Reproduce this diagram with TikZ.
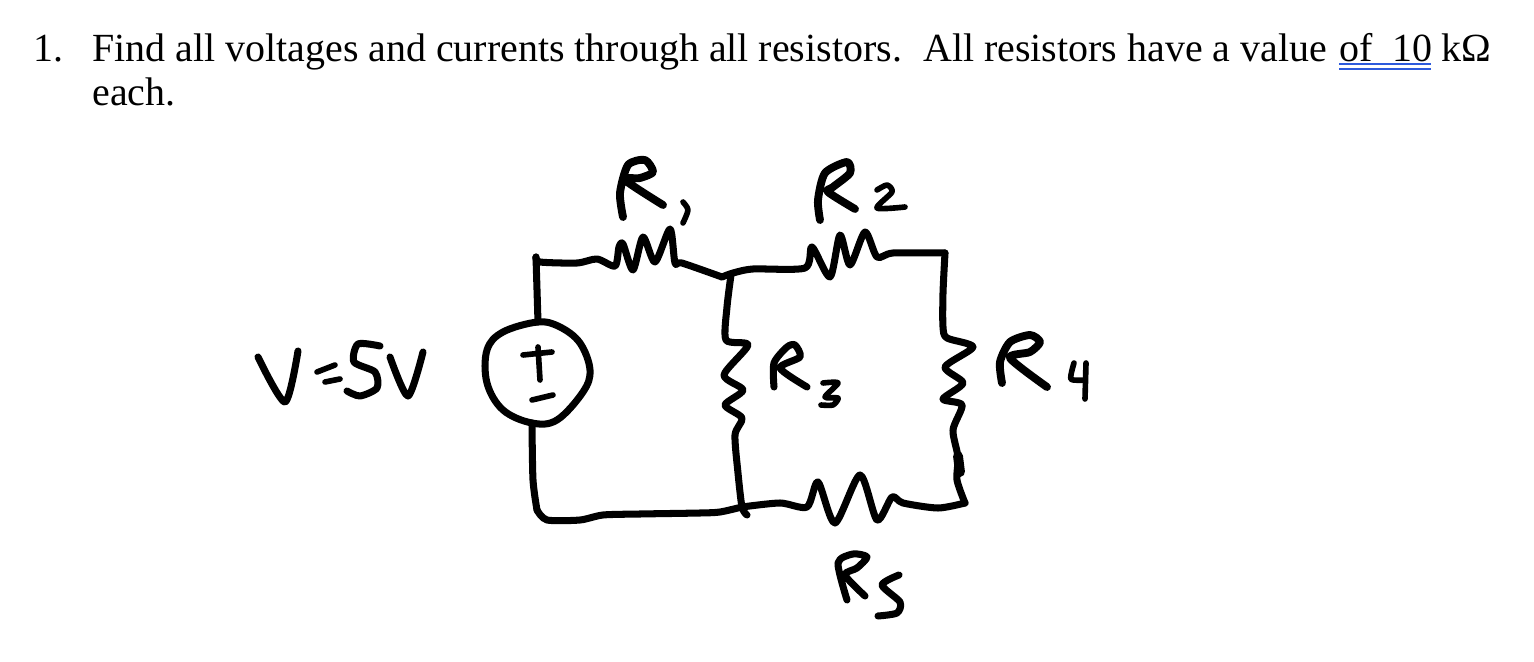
\documentclass[tikz,border=0pt]{standalone}
\usepackage{fontspec}
\setmainfont{Liberation Serif}
\usetikzlibrary{positioning}
\definecolor{wordblue}{RGB}{45,90,220}

\begin{document}
\begin{tikzpicture}[
    x=0.025cm, y=-0.025cm,
    txt/.style={anchor=base west, inner sep=0pt, font=\fontsize{28.4}{32}\selectfont},
    ink/.style={line width=5pt, line cap=round, line join=round},
    bigink/.style={line width=5.6pt, line cap=round, line join=round},
    thinink/.style={line width=4pt, line cap=round, line join=round},
    hand/.style={smooth, tension=0.45},
    squiggle/.style={line width=1.6pt, wordblue}
]
\useasboundingbox (0,0) rectangle (1534,662);

% question text
\node[txt] (num) at (33,62) {1.};
\node[txt] (lineA) at (92,62) {Find all voltages and currents through all resistors.};
\node[txt] (lineB) at (923,62) {All resistors have a value};
\node[txt] (valof) at (1339,62) {of};
\node[txt] (valnum) at (1392,62) {10};
\node[txt] (valunit) at (1441,62) {k\char"03A9};
\node[txt] (lineC) at (92,106) {each.};

\coordinate (ulA) at (1339,64);
\coordinate (ulB) at (1431,64);
\coordinate (ulC) at (1339,69);
\coordinate (ulD) at (1431,69);
\draw[squiggle] (ulA) -- (ulB);
\draw[squiggle] (ulC) -- (ulD);

% circuit corners
\coordinate (tl) at (536,257);
\coordinate (jtop) at (722,277);
\coordinate (jmid) at (731,275);
\coordinate (tr) at (945,253);
\coordinate (br) at (965,503);
\coordinate (jbot) at (742,507);
\coordinate (jtick) at (747,515);
\coordinate (bl) at (537,510);
\coordinate (srctop) at (538,322);
\coordinate (srcbot) at (532,423);

% source
\draw[ink] plot[smooth cycle, tension=0.6] coordinates {(srctop) (503,332) (487,350) (487,383) (503,410) (srcbot) (557,420) (583,392) (590,370) (580,343) (560,327)};
\draw[thinink] (523,355) -- (552,352);
\draw[thinink] (538,347) -- (540,380);
\draw[thinink] (532,400) -- (553,395);

% wires with resistors
\draw[ink] (srctop) -- (tl);
\draw[ink] plot[hand] coordinates {(tl) (540,262) (577,263) (597,259) (615,266) (619,247) (623,244) (633,270) (643,237) (655,262) (670,229) (675,263) (682,263) (jtop)};
\draw[ink] plot[hand] coordinates {(jtop) (733,273) (753,269) (805,268) (812,247) (830,277) (840,235) (850,265) (865,232) (877,257) (893,253) (tr)};
\draw[ink] plot[hand] coordinates {(tr) (943,293) (943,327) (947,338) (973,347) (945,367) (963,383) (943,399) (962,405) (953,430) (958,457) (957,480) (br)};
\draw[ink] plot[hand] coordinates {(jmid) (727,307) (726,340) (748,345) (724,375) (743,390) (725,405) (742,418) (735,435) (738,473) (jbot) (jtick)};
\draw[ink] plot[hand] coordinates {(br) (938,508) (903,503) (892,497) (877,520) (860,475) (835,523) (818,482) (807,507) (780,503) (jbot)};
\draw[ink] plot[hand] coordinates {(jbot) (720,512) (700,513) (640,514) (603,515) (580,520) (547,520) (bl)};
\draw[ink] plot[hand] coordinates {(bl) (533,480) (srcbot)};
\draw[line width=7pt, line cap=round] (958,456) -- (960,472);

% handwritten labels
\draw[ink] plot[hand] coordinates {(258,357) (285,402) (298,351)};
\draw[thinink] (317,372) -- (335,365);
\draw[thinink] (325,382) -- (340,379);
\draw[ink] plot[hand] coordinates {(380,346) (358,344) (354,362) (375,372) (377,388) (360,396) (347,391)};
\draw[ink] plot[hand] coordinates {(390,357) (408,396) (423,352)};

\draw[bigink] plot[hand] coordinates {(623,217) (620,193) (628,165) (645,160) (653,172) (640,178) (625,180) (663,205)};
\draw[thinink] plot[hand] coordinates {(683,202) (688,210) (683,223)};

\draw[bigink] plot[hand] coordinates {(820,220) (818,200) (825,173) (847,162) (850,173) (833,187) (828,192) (855,209)};
\draw[thinink] plot[hand] coordinates {(877,190) (887,185) (892,192) (877,208) (905,207)};

\draw[ink] plot[hand] coordinates {(774,387) (774,363) (787,347) (795,345) (800,357) (780,368) (807,387)};
\draw[thinink] plot[hand] coordinates {(823,383) (838,383) (825,397) (838,398) (833,405) (821,405)};

\draw[bigink] plot[hand] coordinates {(1002,383) (1000,362) (1010,342) (1030,335) (1040,342) (1030,352) (1010,358) (1047,387)};
\draw[thinink] plot[hand] coordinates {(1074,363) (1071,379) (1085,380)};
\draw[thinink] (1086,363) -- (1085,399);

\draw[ink] plot[hand] coordinates {(847,600) (838,563) (853,554) (867,557) (857,568) (845,575) (865,596)};
\draw[ink] plot[hand] coordinates {(899,575) (882,585) (900,602) (897,613) (878,616)};

\end{tikzpicture}
\end{document}
